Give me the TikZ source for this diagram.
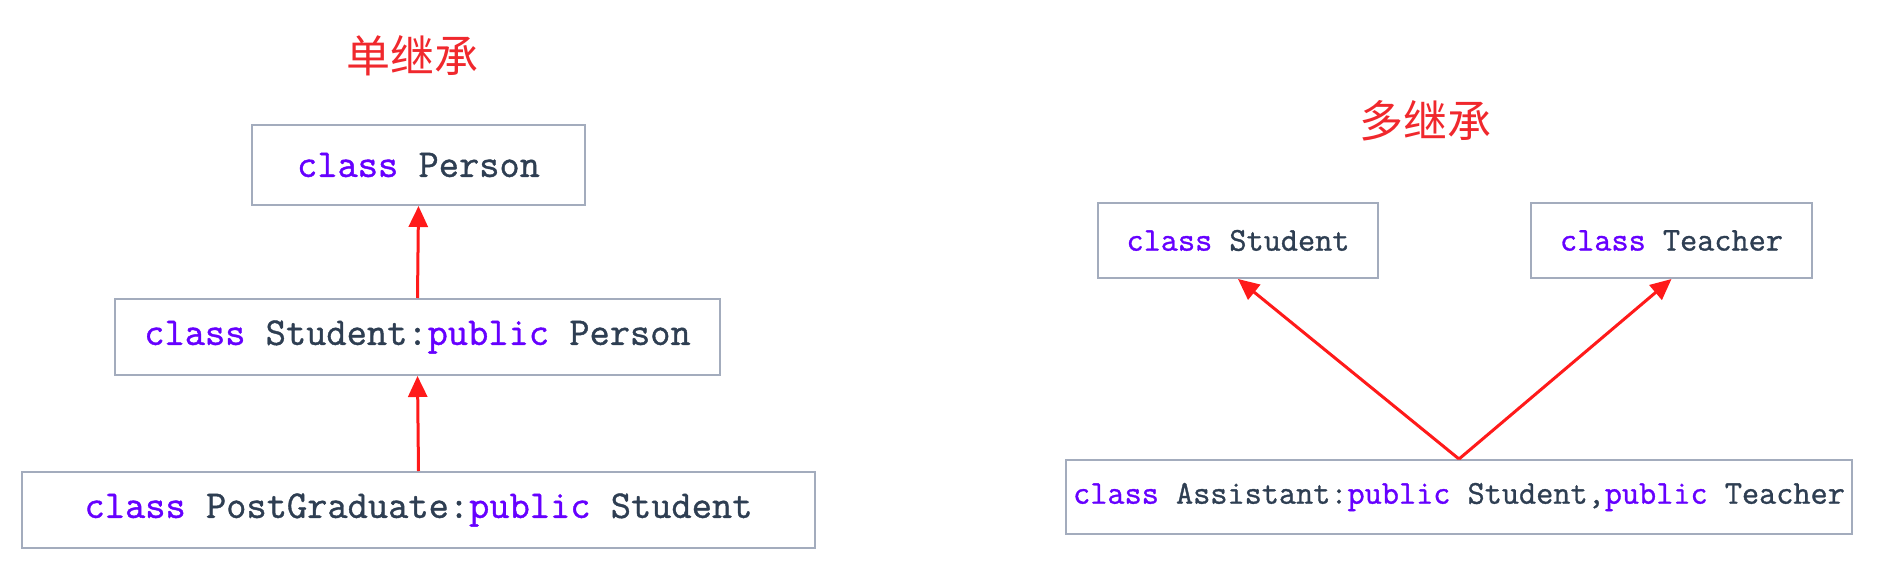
\documentclass[tikz,border=0pt]{standalone}
\usepackage{fontspec}
\newfontfamily\cjk{Noto Sans CJK SC}
\newfontfamily\codefont{Latin Modern Mono}[FakeBold=1]
\usetikzlibrary{arrows.meta}
\definecolor{kw}{HTML}{6600FF}
\definecolor{idt}{HTML}{2E3E52}
\definecolor{bordc}{HTML}{A3ACBD}
\definecolor{arr}{HTML}{FF1A1A}
\definecolor{ttl}{HTML}{F0282D}
\newcommand{\kwd}[1]{\textcolor{kw}{#1}}
\begin{document}
\begin{tikzpicture}[x=1pt,y=-1pt,
  cls/.style={draw=bordc,line width=2pt,rectangle,inner sep=0pt,text=idt},
  bigcode/.style={font=\codefont\fontsize{39.3}{41}\selectfont},
  smallcode/.style={font=\codefont\fontsize{33.3}{35}\selectfont},
  inh/.style={draw=arr,line width=3pt,-{Triangle[length=21pt,width=19pt]}},
  ttlstyle/.style={font=\cjk\fontsize{44}{48}\selectfont,text=ttl}]
\useasboundingbox (0,0) rectangle (1898,572);
\node[ttlstyle] (t1) at (412,56) {单继承};
\node[ttlstyle] (t2) at (1425,121) {多继承};
\node[cls,bigcode,minimum width=333pt,minimum height=80pt] (person) at (418.5,165) {\kwd{class} Person};
\node[cls,bigcode,minimum width=605pt,minimum height=76pt] (sp) at (417.5,337) {\kwd{class} Student:\kwd{public} Person};
\node[cls,bigcode,minimum width=793pt,minimum height=76pt] (pg) at (418.5,510) {\kwd{class} PostGraduate:\kwd{public} Student};
\node[cls,smallcode,minimum width=280pt,minimum height=75pt] (stu) at (1238,240.5) {\kwd{class} Student};
\node[cls,smallcode,minimum width=281pt,minimum height=75pt] (tea) at (1671.5,240.5) {\kwd{class} Teacher};
\node[cls,smallcode,minimum width=786pt,minimum height=74pt] (asst) at (1459,497) {\kwd{class} Assistant:\kwd{public} Student,\kwd{public} Teacher};
\draw[inh] (sp.north) -- (person.south);
\draw[inh] (pg.north) -- (sp.south);
\draw[inh] (asst.north) -- (stu.south);
\draw[inh] (asst.north) -- (tea.south);
\end{tikzpicture}
\end{document}
